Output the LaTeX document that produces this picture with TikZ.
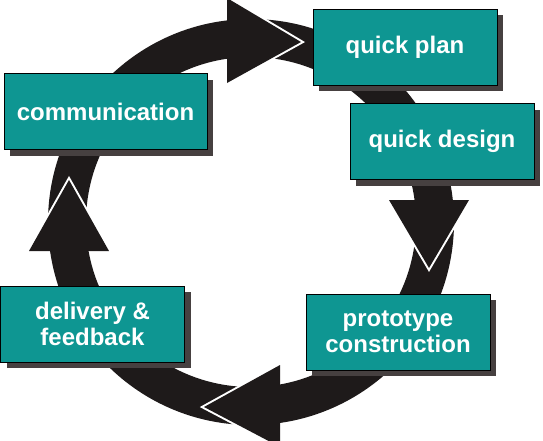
\documentclass[tikz,border=0pt]{standalone}
\usepackage{fontspec}
\setmainfont{Liberation Sans}
\usetikzlibrary{shadows}

\definecolor{stageteal}{RGB}{14,150,146}
\definecolor{ringblack}{RGB}{30,26,26}
\definecolor{shadowgray}{RGB}{70,64,64}

\tikzset{
  stage/.style={draw=black, line width=1pt, fill=stageteal, text=white,
    font=\bfseries\fontsize{24}{26}\selectfont, align=center,
    minimum width=184pt, minimum height=76pt, inner sep=0pt,
    drop shadow={shadow xshift=6pt, shadow yshift=-6pt, fill=shadowgray, opacity=1}},
  ahead/.style={fill=ringblack},
  anotch/.style={draw=white, line width=4pt, line join=miter}
}

\begin{document}
\begin{tikzpicture}[x=1pt,y=-1pt]
  \clip (0,0) rectangle (543,440);
  \draw[ringblack, line width=38pt] (251,222) circle(184pt);

  \draw[anotch] (227,-2) -- (301,42) -- (227,83);
  \fill[ahead] (227,-2) -- (301,42) -- (227,83) -- cycle;

  \draw[anotch] (389,200) -- (429,268) -- (469,200);
  \fill[ahead] (389,200) -- (429,268) -- (469,200) -- cycle;

  \draw[anotch] (280,365) -- (204,407) -- (280,447);
  \fill[ahead] (280,365) -- (204,407) -- (280,447) -- cycle;

  \draw[anotch] (29,251) -- (69,180) -- (109,251);
  \fill[ahead] (29,251) -- (69,180) -- (109,251) -- cycle;

  \node[stage, minimum width=203pt] (comm) at (105.5,111.5) {communication};
  \node[stage] (plan) at (405,47) {quick plan};
  \node[stage] (design) at (442,141.5) {quick design};
  \node[stage] (proto) at (398,332) {prototype\\construction};
  \node[stage] (deliv) at (92.5,324) {delivery \&\\feedback};
\end{tikzpicture}
\end{document}
